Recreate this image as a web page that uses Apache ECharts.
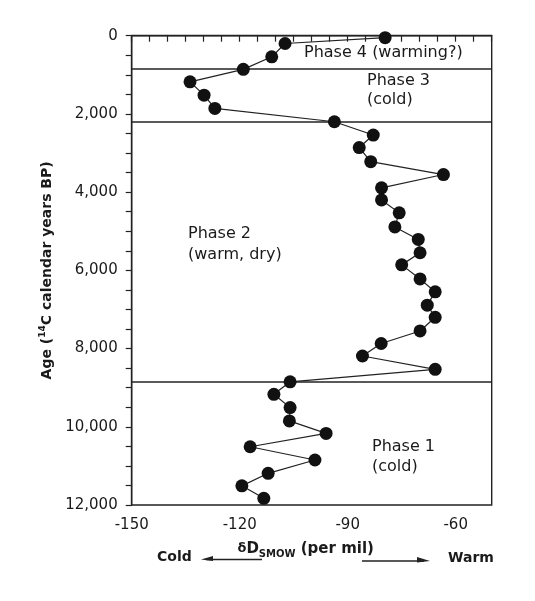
<!DOCTYPE html>
<html>
<head>
<meta charset="utf-8">
<script src="https://cdn.jsdelivr.net/npm/echarts@6/dist/echarts.min.js"></script>
<style>
html,body{margin:0;padding:0;background:#fff;}
#chart{width:535px;height:601px;}
</style>
</head>
<body>
<div id="chart"></div>
<script>
// Age (14C calendar years BP) of each sample
var ages = [50, 200, 540, 860, 1180, 1520, 1860, 2200, 2540, 2860, 3220, 3550, 3890, 4200, 4530, 4890, 5210, 5550, 5860, 6220, 6550, 6890, 7200, 7550, 7870, 8190, 8530, 8850, 9170, 9510, 9850, 10170, 10510, 10850, 11190, 11510, 11830];
// deltaD SMOW (per mil)
var deltaD = [-79.6, -107.4, -111.1, -119, -133.8, -129.9, -126.9, -93.7, -82.9, -86.8, -83.6, -63.4, -80.6, -80.6, -75.7, -76.9, -70.4, -69.9, -75, -69.9, -65.7, -67.9, -65.7, -69.9, -80.7, -85.9, -65.7, -106, -110.5, -106, -106.2, -96, -117.1, -99.1, -112.1, -119.4, -113.3];
// phase boundaries (years BP)
var phaseBounds = [850, 2200, 8850];
// x tick labels shown
var xTickLabels = [-150, -120, -90, -60];
// y tick labels shown
var yTickLabels = [0, 2000, 4000, 6000, 8000, 10000, 12000];

var FONT = 'DejaVu Sans';
var ink = '#1a1a1a';

var chart = echarts.init(document.getElementById('chart'), null, {renderer: 'canvas'});

var pts = ages.map(function (a, i) { return [deltaD[i], a]; });

function txt(t, x, y, opts) {
  opts = opts || {};
  return {
    type: 'text', x: x, y: y, silent: true, z: 50,
    style: {
      text: t, fill: ink,
      font: (opts.weight || 'normal') + ' ' + (opts.size || 16) + 'px "' + FONT + '"',
      align: opts.align || 'left', verticalAlign: 'middle'
    }
  };
}

var option = {
  backgroundColor: '#fff',
  animation: false,
  grid: {
    left: 131.7, right: 43.3, top: 35.7, bottom: 96,
    show: true, borderColor: '#222', borderWidth: 1.4
  },
  xAxis: {
    type: 'value', min: -150, max: -50, interval: 5,
    position: 'bottom',
    splitLine: {show: false},
    axisLine: {lineStyle: {color: '#222', width: 1.4}},
    axisTick: {length: 6, lineStyle: {color: '#222', width: 1.2}},
    axisLabel: {
      margin: 13, color: ink, fontFamily: FONT, fontSize: 15,
      formatter: function (v) { return xTickLabels.indexOf(v) >= 0 ? String(v) : ''; }
    },
    name: '{g|δ}{d|D}{s|SMOW}{d| (per mil)}',
    nameLocation: 'middle', nameGap: 34,
    nameTextStyle: {
      padding: [0, 12, 0, 0],
      rich: {
        g: {fontFamily: FONT, fontSize: 13, fontWeight: 'bold', color: ink, lineHeight: 20, verticalAlign: 'middle'},
        d: {fontFamily: FONT, fontSize: 15, fontWeight: 'bold', color: ink, lineHeight: 20, verticalAlign: 'middle'},
        s: {fontFamily: FONT, fontSize: 10, fontWeight: 'bold', color: ink, lineHeight: 10, verticalAlign: 'bottom'}
      }
    }
  },
  yAxis: {
    type: 'value', inverse: true, min: 0, max: 12000, interval: 500,
    splitLine: {show: false},
    axisLine: {lineStyle: {color: '#222', width: 1.4}},
    axisTick: {length: 6, lineStyle: {color: '#222', width: 1.2}},
    axisLabel: {
      margin: 14, color: ink, fontFamily: FONT, fontSize: 15,
      formatter: function (v) { return yTickLabels.indexOf(v) >= 0 ? v.toLocaleString('en-US') : ''; }
    },
    name: '{a|Age (}{s|14}{a|C calendar years BP)}',
    nameLocation: 'middle', nameGap: 72, nameRotate: 90,
    nameTextStyle: {
      rich: {
        a: {fontFamily: FONT, fontSize: 14, fontWeight: 'bold', color: ink, lineHeight: 18, verticalAlign: 'middle'},
        s: {fontFamily: FONT, fontSize: 9, fontWeight: 'bold', color: ink, lineHeight: 9, verticalAlign: 'top'}
      }
    }
  },
  series: [{
    type: 'line',
    data: pts,
    clip: false,
    symbol: 'circle', symbolSize: 13,
    itemStyle: {color: '#111'},
    lineStyle: {color: '#222', width: 1.2},
    z: 10,
    markLine: {
      silent: true, symbol: 'none',
      label: {show: false},
      lineStyle: {color: '#222', width: 1.5, type: 'solid'},
      data: phaseBounds.map(function (b) { return {yAxis: b}; })
    }
  }],
  graphic: [
    txt('Phase 4 (warming?)', 304, 53),
    txt('Phase 3', 367, 81),
    txt('(cold)', 367, 100),
    txt('Phase 2', 188, 234),
    txt('(warm, dry)', 188, 255),
    txt('Phase 1', 372, 447),
    txt('(cold)', 372, 467),
    txt('Cold', 157, 557, {weight: 'bold', size: 14}),
    txt('Warm', 448, 558, {weight: 'bold', size: 14}),
    {type: 'line', silent: true, shape: {x1: 206, y1: 559.5, x2: 262, y2: 559.5}, style: {stroke: '#222', lineWidth: 1.5}},
    {type: 'polygon', silent: true, shape: {points: [[201, 559.5], [213, 556], [213, 561]]}, style: {fill: '#222'}},
    {type: 'line', silent: true, shape: {x1: 362, y1: 561, x2: 424, y2: 561}, style: {stroke: '#222', lineWidth: 1.5}},
    {type: 'polygon', silent: true, shape: {points: [[430, 561], [417, 557], [417, 562.5]]}, style: {fill: '#222'}}
  ]
};
chart.setOption(option);
</script>
</body>
</html>
